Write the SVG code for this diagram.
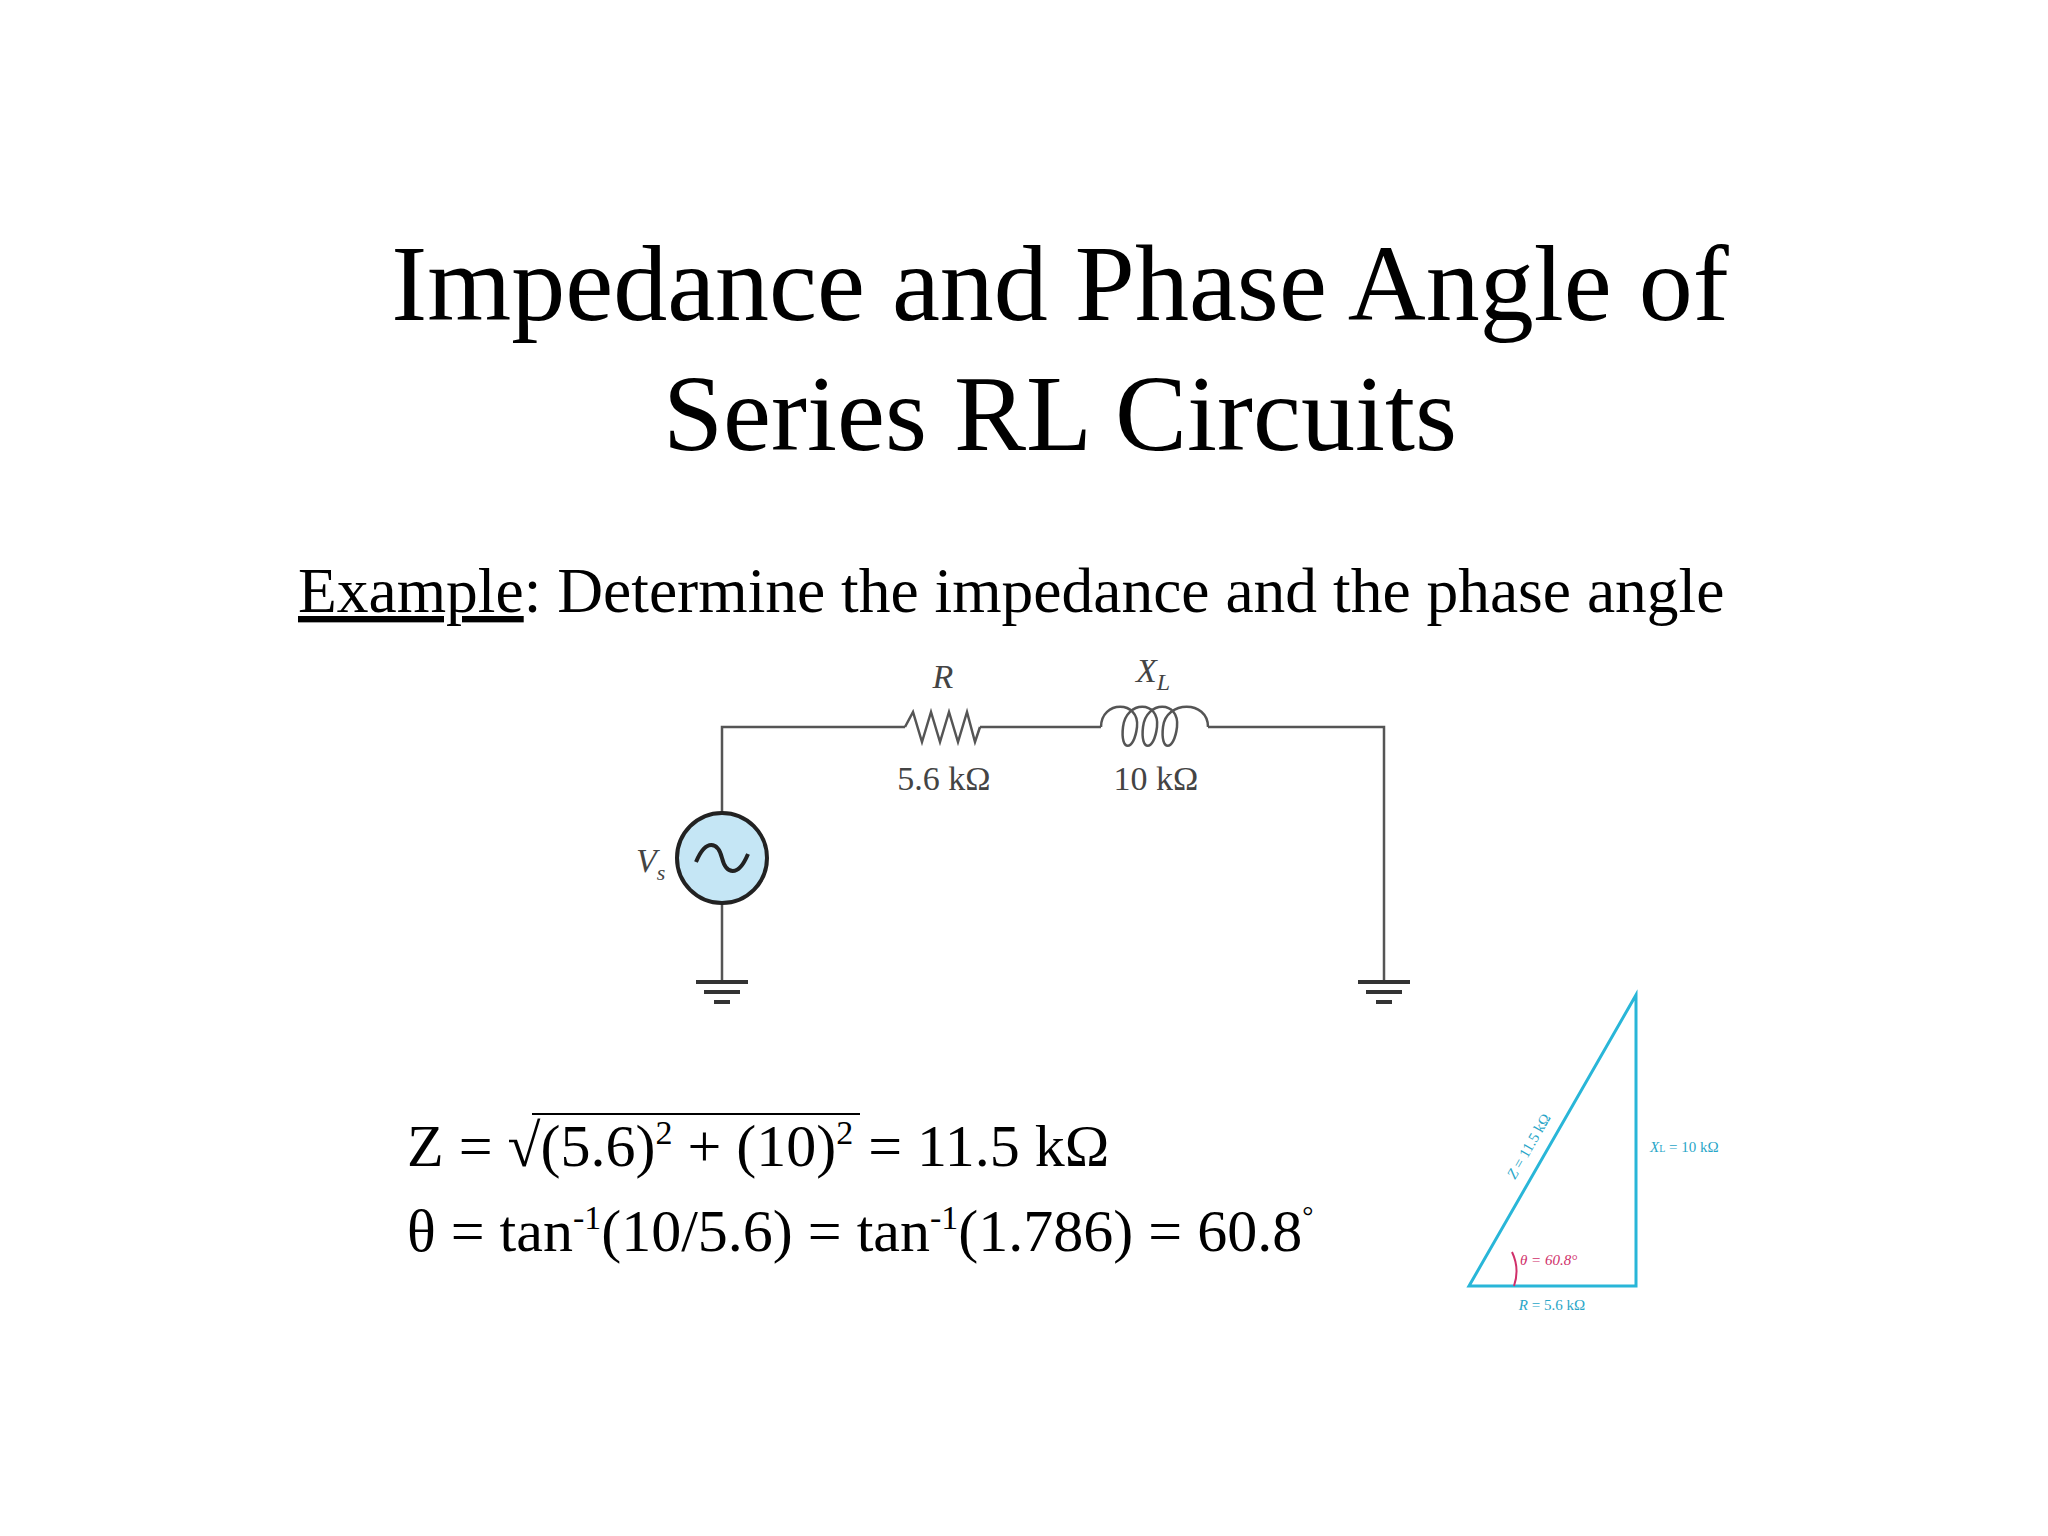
<svg xmlns="http://www.w3.org/2000/svg" width="2048" height="1536" viewBox="0 0 2048 1536">
<style>
.t{font-family:"Liberation Serif",serif;fill:#000}
.w{stroke:#555;stroke-width:2.5;fill:none}
.c{font-family:"Liberation Serif",serif;fill:#444}
.b{stroke:#29b6d8;stroke-width:3;fill:none}
.bl{font-family:"Liberation Serif",serif;fill:#29a6c8;font-size:15px}
</style>
<rect width="2048" height="1536" fill="#fff"/>
<g id="title">
<text class="t" x="1060" y="320" font-size="108" text-anchor="middle">Impedance and Phase Angle of</text>
<text class="t" x="1060" y="450" font-size="108" text-anchor="middle">Series RL Circuits</text>
</g>
<g id="example">
<text class="t" x="298" y="612" font-size="63.5"><tspan text-decoration="underline">Example</tspan>: Determine the impedance and the phase angle</text>
</g>
<g id="connectors">
<path class="w" d="M722,813 V727 H905 M980,727 H1101 M1208,727 H1384 V980 M722,903 V980"/>
</g>
<g id="resistor">
<path class="w" stroke-width="3" d="M905,727 L913,712 L922,742 L931,712 L940,742 L949,712 L958,742 L967,712 L975,742 L980,727"/>
<text class="c" x="943" y="688" font-size="34" font-style="italic" text-anchor="middle">R</text>
<text class="c" x="944" y="790" font-size="34" text-anchor="middle">5.6 kΩ</text>
</g>
<g id="inductor">
<path class="w" stroke-width="4" d="M1101,727 C1101,700 1140,700 1137,727 C1134,752 1120,752 1123,727 C1126,700 1160,700 1157,727 C1154,752 1140,752 1143,727 C1146,700 1180,700 1177,727 C1174,752 1160,752 1163,727 C1166,700 1208,700 1208,727"/>
<text class="c" x="1153" y="682" font-size="34" font-style="italic" text-anchor="middle">X<tspan font-size="24" dy="8">L</tspan></text>
<text class="c" x="1156" y="790" font-size="34" text-anchor="middle">10 kΩ</text>
</g>
<g id="source">
<circle cx="722" cy="858" r="45" fill="#c5e6f5" stroke="#222" stroke-width="4"/>
<path d="M696,862 C706,838 718,842 722,858 C726,874 738,878 748,854" fill="none" stroke="#222" stroke-width="4"/>
<text class="c" x="636" y="872" font-size="34" font-style="italic">V<tspan font-size="22" dy="8">s</tspan></text>
</g>
<g id="ground1" stroke="#333" stroke-width="4">
<line x1="696" y1="982" x2="748" y2="982"/><line x1="704" y1="992" x2="740" y2="992"/><line x1="714" y1="1002" x2="730" y2="1002"/>
</g>
<g id="ground2" stroke="#333" stroke-width="4">
<line x1="1358" y1="982" x2="1410" y2="982"/><line x1="1366" y1="992" x2="1402" y2="992"/><line x1="1376" y1="1002" x2="1392" y2="1002"/>
</g>
<g id="equations">
<text class="t" x="407" y="1166" font-size="60">Z = √(5.6)<tspan font-size="34" dy="-22">2</tspan><tspan dy="22"> + (10)</tspan><tspan font-size="34" dy="-22">2</tspan><tspan dy="22"> = 11.5 kΩ</tspan></text>
<line x1="532" y1="1114" x2="860" y2="1114" stroke="#000" stroke-width="2"/>
<text class="t" x="407" y="1251" font-size="60">θ = tan<tspan font-size="34" dy="-22">-1</tspan><tspan dy="22">(10/5.6) = tan</tspan><tspan font-size="34" dy="-22">-1</tspan><tspan dy="22">(1.786) = 60.8</tspan><tspan font-size="28" dy="-26">°</tspan></text>
</g>
<g id="triangle">
<path class="b" d="M1469,1286 L1636,1286 L1636,995 Z"/>
<path d="M1512,1252 A45,45 0 0 1 1514,1286" fill="none" stroke="#d0306a" stroke-width="2"/>
<text class="bl" x="1520" y="1265" style="fill:#d0306a" font-style="italic">θ = 60.8°</text>
<text class="bl" x="1552" y="1310" text-anchor="middle"><tspan font-style="italic">R</tspan> = 5.6 kΩ</text>
<text class="bl" x="1650" y="1152"><tspan font-style="italic">X</tspan><tspan font-size="10">L</tspan> = 10 kΩ</text>
<text class="bl" x="0" y="0" transform="translate(1515,1180) rotate(-60)"><tspan font-style="italic">Z</tspan> = 11.5 kΩ</text>
</g>
</svg>
